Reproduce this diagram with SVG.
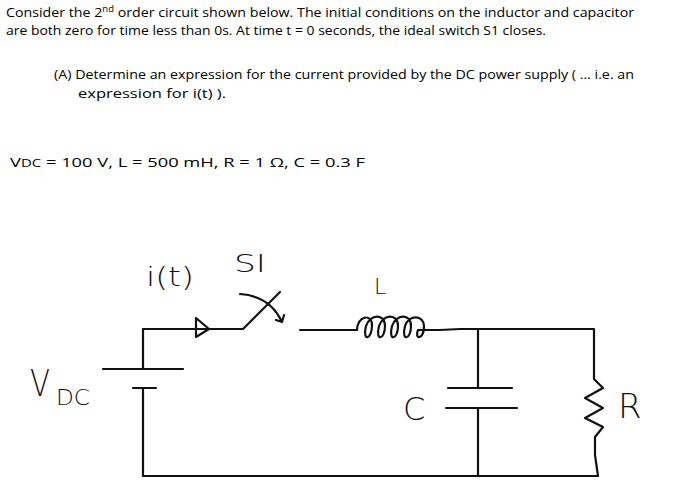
<svg xmlns="http://www.w3.org/2000/svg" width="677" height="498" viewBox="0 0 677 498">
<style>
.t{font-family:"Open Sans","Liberation Sans",sans-serif;font-size:13.5px;fill:#000}
.h{font-family:"DejaVu Sans","Liberation Sans",sans-serif;font-weight:300;fill:#111}
.w{fill:none;stroke:#111;stroke-width:2.2;stroke-linecap:round;stroke-linejoin:round}
</style>
<rect width="677" height="498" fill="#fff"/>
<g id="text">
<text class="t" x="6" y="17" textLength="628" lengthAdjust="spacingAndGlyphs">Consider the 2<tspan font-size="9" dy="-5">nd</tspan><tspan dy="5"> order circuit shown below.  The initial conditions on the inductor and capacitor</tspan></text>
<text class="t" x="6" y="35" textLength="540" lengthAdjust="spacingAndGlyphs">are both zero for time less than 0s.  At time t = 0 seconds, the ideal switch S1 closes.</text>
<text class="t" x="54" y="79" textLength="580" lengthAdjust="spacingAndGlyphs">(A) Determine an expression for the current provided by the DC power supply ( … i.e. an</text>
<text class="t" x="78" y="98" textLength="148" lengthAdjust="spacingAndGlyphs">expression for i(t) ).</text>
<text class="t" x="10" y="167" font-size="15.5" textLength="355" lengthAdjust="spacingAndGlyphs">V<tspan font-size="11">DC</tspan> = 100 V, L = 500 mH, R = 1 Ω, C = 0.3 F</text>
</g>
<g id="labels">
<text class="h" x="146" y="286" font-size="26" textLength="48" lengthAdjust="spacingAndGlyphs">i(t)</text>
<text class="h" x="234" y="272" font-size="24" textLength="32" lengthAdjust="spacingAndGlyphs">SI</text>
<text class="h" x="374" y="294" font-size="22">L</text>
<text class="h" x="30" y="396" font-size="38" textLength="20" lengthAdjust="spacingAndGlyphs">V</text>
<text class="h" x="56" y="405" font-size="22" textLength="34" lengthAdjust="spacingAndGlyphs">DC</text>
<text class="h" x="403" y="420" font-size="32">C</text>
<text class="h" x="618" y="418" font-size="34">R</text>
</g>
<g id="connectors">
<path class="w" d="M143 369 V329 H243 L280 292"/>
<path class="w" d="M240 294 Q270 296 282 322 M276 320 L282 322 L284 315"/>
<path class="w" d="M196 337 L209 329 L196 318 Z"/>
<path class="w" d="M300 330 H357"/>
<path class="w" d="M357 330 C357 316 372 313 372 325 C372 340 362 342 366 326 C370 314 385 313 385 326 C385 340 375 342 379 326 C383 314 398 313 398 326 C398 340 388 342 392 326 C396 314 411 313 411 326 C411 340 401 342 405 326 C409 314 424 315 424 326 C424 340 414 340 418 330 H440 L460 329"/>
<path class="w" d="M460 329 H594 V379 L603 388 L585 398 L603 408 L585 418 L603 427 L595 437 V455 L598 476 H143 V388"/>
<path class="w" d="M103 369 H183 M133 388 H156"/>
<path class="w" d="M478 329 V388 M448 388 H512 M446 408 H517 M478 408 V476"/>
</g>
</svg>
